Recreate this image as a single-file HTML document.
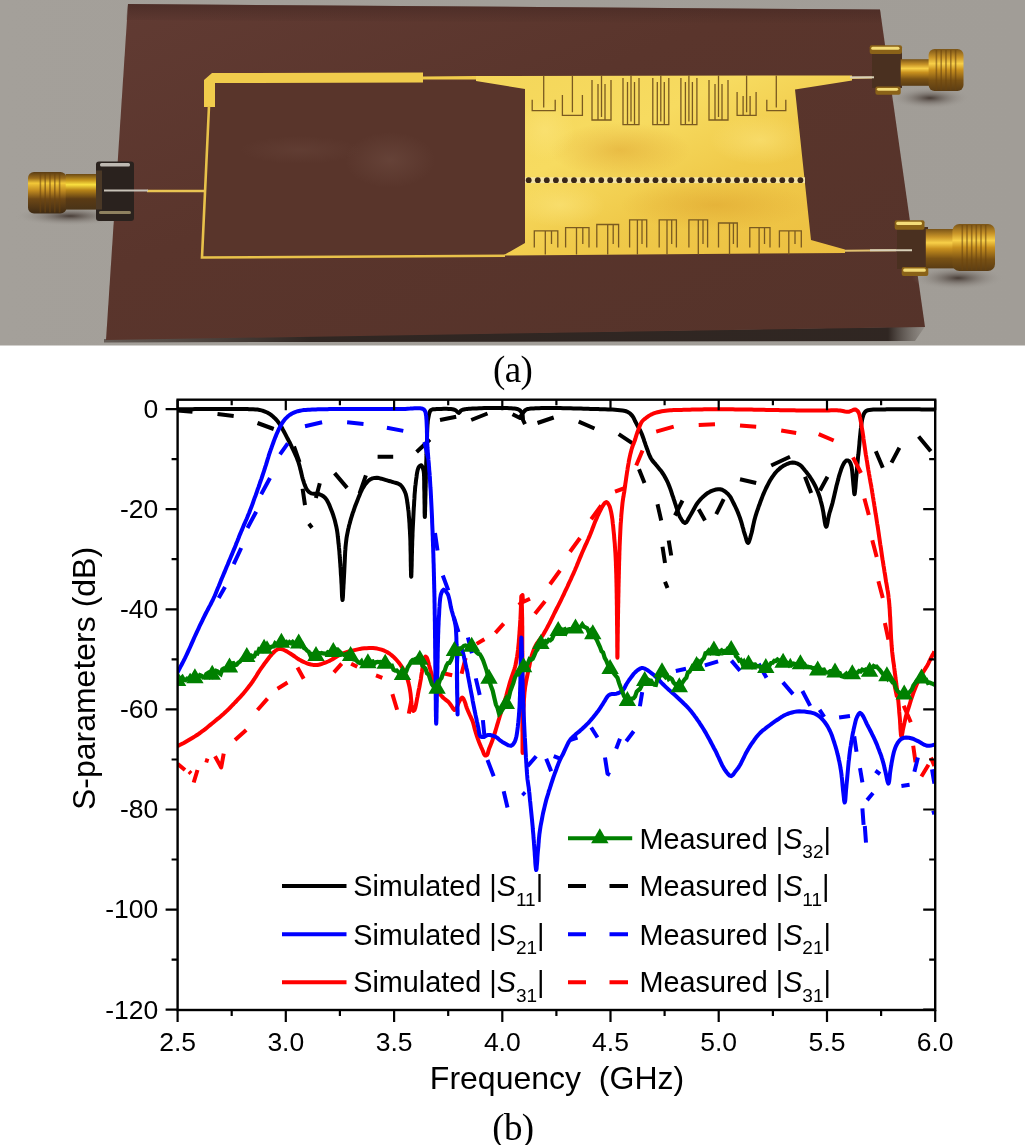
<!DOCTYPE html>
<html><head><meta charset="utf-8"><title>Figure</title>
<style>html,body{margin:0;padding:0;background:#fff;}svg{display:block;}</style>
</head><body>
<svg width="1025" height="1145" viewBox="0 0 1025 1145">
<rect width="1025" height="1145" fill="#fff"/>
<defs>
<linearGradient id="bg" x1="0" y1="0" x2="1" y2="0">
 <stop offset="0" stop-color="#a4a09a"/><stop offset="0.5" stop-color="#a29e98"/><stop offset="1" stop-color="#a19d97"/>
</linearGradient>
<linearGradient id="pcb" x1="0" y1="0" x2="1" y2="1">
 <stop offset="0" stop-color="#613b33"/><stop offset="0.4" stop-color="#5a352c"/><stop offset="1" stop-color="#55332a"/>
</linearGradient>
<linearGradient id="gold" x1="0" y1="0" x2="1" y2="1">
 <stop offset="0" stop-color="#f4d65a"/><stop offset="0.35" stop-color="#f7db60"/><stop offset="0.6" stop-color="#f0ca4a"/><stop offset="1" stop-color="#ecbe40"/>
</linearGradient>
<linearGradient id="conn" x1="0" y1="0" x2="0" y2="1">
 <stop offset="0" stop-color="#6e4a14"/><stop offset="0.25" stop-color="#c08a22"/><stop offset="0.42" stop-color="#f6d04a"/>
 <stop offset="0.55" stop-color="#b47e1c"/><stop offset="0.8" stop-color="#7a5214"/><stop offset="1" stop-color="#4a3010"/>
</linearGradient>
<linearGradient id="connL" x1="0" y1="0" x2="0" y2="1">
 <stop offset="0" stop-color="#5a3c14"/><stop offset="0.15" stop-color="#9a6c1c"/><stop offset="0.27" stop-color="#f2c838"/><stop offset="0.45" stop-color="#c08a20"/>
 <stop offset="0.65" stop-color="#6e4816"/><stop offset="1" stop-color="#3e2a14"/>
</linearGradient>
<linearGradient id="connL2" x1="0" y1="0" x2="0" y2="1">
 <stop offset="0" stop-color="#6a4814"/><stop offset="0.18" stop-color="#c8981e"/><stop offset="0.3" stop-color="#fae040"/><stop offset="0.45" stop-color="#b88418"/>
 <stop offset="0.7" stop-color="#5a3a14"/><stop offset="1" stop-color="#4a3418"/>
</linearGradient>
<linearGradient id="connR" x1="0" y1="0" x2="0" y2="1">
 <stop offset="0" stop-color="#7a5418"/><stop offset="0.2" stop-color="#c89428"/><stop offset="0.35" stop-color="#f8d048"/><stop offset="0.5" stop-color="#c8901e"/>
 <stop offset="0.75" stop-color="#7a5214"/><stop offset="1" stop-color="#5a3c14"/>
</linearGradient>
<linearGradient id="flange" x1="0" y1="0" x2="0" y2="1">
 <stop offset="0" stop-color="#3a2c22"/><stop offset="0.5" stop-color="#2a221c"/><stop offset="1" stop-color="#3a2c22"/>
</linearGradient>
<radialGradient id="shadow" cx="0.5" cy="0.5" r="0.5">
 <stop offset="0" stop-color="#3e322c" stop-opacity="0.9"/><stop offset="1" stop-color="#a29e98" stop-opacity="0"/>
</radialGradient>
</defs>
<rect x="0" y="0" width="1025" height="345.5" fill="url(#bg)"/>
<linearGradient id="shd" x1="0" y1="0" x2="1" y2="0"><stop offset="0" stop-color="#3a2e28" stop-opacity="0.6"/><stop offset="0.25" stop-color="#2a201c" stop-opacity="0.95"/><stop offset="0.955" stop-color="#2a201c" stop-opacity="0.95"/><stop offset="1" stop-color="#5a524c" stop-opacity="0.2"/></linearGradient>
<polygon points="104,339 925,326.5 915,341 600,341.5 300,342 104,342.5" fill="url(#shd)"/>
<polygon points="128,4 880,9.5 925,327 106,340" fill="url(#pcb)"/>
<linearGradient id="topd" x1="0" y1="0" x2="0" y2="1"><stop offset="0" stop-color="#3e2420" stop-opacity="0.55"/><stop offset="1" stop-color="#3e2420" stop-opacity="0"/></linearGradient>
<polygon points="128,4 880,9.5 882,24 126,20" fill="url(#topd)"/>
<polygon points="207,83 476,81 525,89 525,243 503,255 202,257" fill="#59352b"/>
<polygon points="476,76 852,75.5 852,80.5 795,89.5 811,240 845,249.5 845,253 503,255.5 525,243 525,89 476,81" fill="url(#gold)"/>
<clipPath id="gclip"><polygon points="476,76 852,75.5 852,80.5 795,89.5 811,240 845,249.5 845,253 503,255.5 525,243 525,89 476,81"/></clipPath>
<radialGradient id="org" cx="0.5" cy="0.5" r="0.5"><stop offset="0" stop-color="#d99a28" stop-opacity="0.45"/><stop offset="1" stop-color="#d99a28" stop-opacity="0"/></radialGradient>
<radialGradient id="lgt" cx="0.5" cy="0.5" r="0.5"><stop offset="0" stop-color="#fbe47a" stop-opacity="0.6"/><stop offset="1" stop-color="#fbe47a" stop-opacity="0"/></radialGradient>
<g clip-path="url(#gclip)"><ellipse cx="620" cy="150" rx="70" ry="28" fill="url(#org)"/><ellipse cx="715" cy="205" rx="95" ry="26" fill="url(#org)"/><ellipse cx="560" cy="205" rx="45" ry="22" fill="url(#lgt)"/><ellipse cx="760" cy="140" rx="50" ry="25" fill="url(#lgt)"/><ellipse cx="545" cy="130" rx="30" ry="30" fill="url(#lgt)"/></g>
<radialGradient id="smg" cx="0.5" cy="0.5" r="0.5"><stop offset="0" stop-color="#8a6a5e" stop-opacity="0.25"/><stop offset="1" stop-color="#8a6a5e" stop-opacity="0"/></radialGradient>
<ellipse cx="390" cy="160" rx="45" ry="28" fill="url(#smg)"/>
<ellipse cx="300" cy="150" rx="60" ry="14" fill="url(#smg)" opacity="0.6"/>
<polygon points="212,73 423,72.5 423,82.5 215,83 215,107 204,107 204,80" fill="#f0cc4c"/>
<polygon points="423,76.5 476,76 476,79.5 423,79.5" fill="#f0cc4c"/>
<path d="M209 106 L202 257.5 L505 255.8" stroke="#e8c24a" stroke-width="2.6" fill="none"/>
<path d="M147 191 L205 191" stroke="#e9c453" stroke-width="2.6" fill="none"/>
<path d="M852 78 L872 77.5" stroke="#e0c070" stroke-width="2" fill="none"/>
<path d="M845 250.8 L896 250.3" stroke="#e0c070" stroke-width="2" fill="none"/>
<rect x="525" y="177.3" width="280" height="5.8" fill="#f4e4a8"/>
<g fill="#3a2718"><circle cx="528.7" cy="180.2" r="2.9"/><circle cx="537.8" cy="180.2" r="2.9"/><circle cx="546.8" cy="180.2" r="2.9"/><circle cx="555.9" cy="180.2" r="2.9"/><circle cx="564.9" cy="180.2" r="2.9"/><circle cx="574" cy="180.2" r="2.9"/><circle cx="583" cy="180.2" r="2.9"/><circle cx="592.1" cy="180.2" r="2.9"/><circle cx="601.2" cy="180.2" r="2.9"/><circle cx="610.2" cy="180.2" r="2.9"/><circle cx="619.3" cy="180.2" r="2.9"/><circle cx="628.3" cy="180.2" r="2.9"/><circle cx="637.4" cy="180.2" r="2.9"/><circle cx="646.4" cy="180.2" r="2.9"/><circle cx="655.5" cy="180.2" r="2.9"/><circle cx="664.5" cy="180.2" r="2.9"/><circle cx="673.6" cy="180.2" r="2.9"/><circle cx="682.7" cy="180.2" r="2.9"/><circle cx="691.7" cy="180.2" r="2.9"/><circle cx="700.8" cy="180.2" r="2.9"/><circle cx="709.8" cy="180.2" r="2.9"/><circle cx="718.9" cy="180.2" r="2.9"/><circle cx="727.9" cy="180.2" r="2.9"/><circle cx="737" cy="180.2" r="2.9"/><circle cx="746.1" cy="180.2" r="2.9"/><circle cx="755.1" cy="180.2" r="2.9"/><circle cx="764.2" cy="180.2" r="2.9"/><circle cx="773.2" cy="180.2" r="2.9"/><circle cx="782.3" cy="180.2" r="2.9"/><circle cx="791.3" cy="180.2" r="2.9"/><circle cx="800.4" cy="180.2" r="2.9"/></g>
<path d="M543.7 75.5 V107.6 M532.2 99.7 V110.6 H555.2 V99.7 M572.4 75.5 V112.3 M562.4 95 V115.3 H582.4 V95 M601.5 75.5 V117 M592 80 V120 H611 V80 M598 84 V119.5 M605 84 V119.5 M631 75.5 V121.6 M623 78 V124.6 H639 V78 M627.5 82 V124.1 M634.5 82 V124.1 M660.8 75.5 V121.6 M652.8 78 V124.6 H668.8 V78 M657.3 82 V124.1 M664.3 82 V124.1 M688.9 75.5 V121.6 M680.9 78 V124.6 H696.9 V78 M685.4 82 V124.1 M692.4 82 V124.1 M718.5 75.5 V117 M709 80 V120 H728 V80 M715 84 V119.5 M722 84 V119.5 M746.6 75.5 V112.3 M737.1 92 V115.3 H756.1 V92 M743.1 96 V114.8 M750.1 96 V114.8 M776.3 75.5 V107.6 M766.8 99.7 V110.6 H785.8 V99.7 M545.3 254.5 V230.8 M534.3 247.5 V230.8 H557.8 V247.5 M551.5 230.8 V244 M576.5 254.5 V227.7 M565.6 247.5 V227.7 H589 V247.5 M582.8 227.7 V244 M607.7 254.5 V224.5 M596.8 247.5 V224.5 H618.6 V247.5 M613.2 224.5 V244 M637.4 254.5 V219.9 M629.6 247.5 V219.9 H646.7 V247.5 M642 219.9 V244 M667 254.5 V219.9 M659.2 247.5 V219.9 H676.4 V247.5 M671.7 219.9 V244 M698.3 254.5 V219.9 M688.9 247.5 V219.9 H707.6 V247.5 M703 219.9 V244 M729.5 254.5 V223 M718.5 247.5 V223 H737.3 V247.5 M733.4 223 V244 M759.1 254.5 V227.7 M749.8 247.5 V227.7 H770 V247.5 M764.5 227.7 V244 M788.8 254.5 V230.8 M779.4 247.5 V230.8 H801.3 V247.5 M795 230.8 V244" stroke="#7a5a20" stroke-width="1.3" fill="none"/>
<ellipse cx="70" cy="216" rx="55" ry="10" fill="url(#shadow)"/>
<rect x="28" y="172" width="38.5" height="41.5" rx="6" fill="url(#connL)"/>
<path d="M40.4 173 V212.5 M45.2 173 V212.5 M50 173 V212.5 M54.8 173 V212.5 M59.6 173 V212.5" stroke="#6a4410" stroke-width="1.6" opacity="0.55"/>
<rect x="65.7" y="174" width="32.9" height="35.6" rx="0" fill="url(#connL2)"/>
<rect x="96" y="161.4" width="38" height="59.6" rx="3" fill="#2a221e"/>
<rect x="100" y="163" width="30" height="3.5" rx="1.5" fill="#d8d4cc" opacity="0.85"/>
<rect x="99" y="211" width="32" height="3" rx="1.5" fill="#a89a70" opacity="0.8"/>
<rect x="96" y="170.5" width="6" height="39" fill="#4a3826"/>
<path d="M104 190.5 H148" stroke="#c8c2b8" stroke-width="2.2"/>
<ellipse cx="930" cy="98" rx="40" ry="11" fill="url(#shadow)"/>
<rect x="872" y="52" width="30" height="36" fill="#4a3020"/>
<rect x="869.7" y="45.2" width="32.3" height="8.9" rx="2" fill="#8a6218"/><rect x="871.2" y="46.7" width="28.3" height="3.1" rx="1.5" fill="#f4dc78"/>
<rect x="875.4" y="86.4" width="25.3" height="8.3" rx="2" fill="#8a6218"/><rect x="876.9" y="87.9" width="21.3" height="2.9" rx="1.5" fill="#f4dc78"/>
<rect x="900.7" y="59.2" width="30.5" height="26.6" rx="0" fill="url(#connR)"/>
<rect x="928.6" y="49" width="34.9" height="41.9" rx="6" fill="url(#connR)"/>
<path d="M936.4 50 V89.9 M941.2 50 V89.9 M946 50 V89.9 M950.8 50 V89.9 M955.6 50 V89.9" stroke="#6a4410" stroke-width="1.6" opacity="0.55"/>
<path d="M850 77.3 H874" stroke="#d8d0b8" stroke-width="2"/>
<ellipse cx="958" cy="278" rx="46" ry="12" fill="url(#shadow)"/>
<rect x="897" y="227" width="31" height="42" fill="#4a3020"/>
<rect x="894.7" y="220.2" width="29.8" height="9.5" rx="2" fill="#8a6218"/><rect x="896.2" y="221.7" width="25.8" height="3.3" rx="1.5" fill="#f4dc78"/>
<rect x="901.7" y="267.1" width="26.6" height="8.9" rx="2" fill="#8a6218"/><rect x="903.2" y="268.6" width="22.6" height="3.1" rx="1.5" fill="#f4dc78"/>
<rect x="925.8" y="229" width="35.5" height="39.4" rx="0" fill="url(#connR)"/>
<rect x="952.4" y="224" width="42.6" height="47" rx="7" fill="url(#connR)"/>
<path d="M962.3 225 V270 M967 225 V270 M971.7 225 V270 M976.3 225 V270 M981 225 V270 M985.7 225 V270" stroke="#6a4410" stroke-width="1.6" opacity="0.55"/>
<path d="M870 250.3 H912" stroke="#d8d0b8" stroke-width="2"/>
<defs><clipPath id="pc"><rect x="177.6" y="399.7" width="757.6" height="610.3"/></clipPath></defs>
<g clip-path="url(#pc)">
<g fill="none" stroke-linejoin="round" stroke-linecap="butt" stroke-width="4">
<path d="M177.5 409.2 L179.5 409.2 L181.6 409.2 L183.8 409.2 L185.9 409.2 L188.1 409.2 L190.4 409.2 L192.6 409.2 L194.9 409.1 L197.2 409.1 L199.5 409.1 L201.9 409.1 L204.2 409.1 L206.5 409.1 L208.8 409.1 L211.1 409.1 L213.5 409 L215.7 409 L218 409 L220.2 409 L222.4 409 L224.6 409 L226.7 409 L228.8 409 L230.9 409 L232.9 409 L234.8 409 L236.7 409 L238.5 409 L240.2 409 L241.8 409 L243.4 409.1 L244.9 409.1 L246.3 409.1 L247.7 409.1 L248.9 409.2 L250 409.2 L253.1 409.3 L255.5 409.4 L257.5 409.6 L259.5 409.9 L262.4 410.6 L265 411.6 L267.2 412.5 L269.3 413.7 L271 414.9 L272.7 416.3 L274.5 417.9 L276.1 419.5 L277.4 421.1 L278.7 422.7 L279.8 424.4 L281 426.3 L282 427.9 L282.9 429.7 L283.9 431.5 L284.9 433.4 L285.8 435.2 L286.8 437.1 L287.8 439 L288.8 440.9 L289.8 442.8 L290.8 444.8 L291.7 446.8 L292.7 448.8 L293.6 450.7 L294.4 452.5 L295.3 454.4 L296.1 456.3 L297 458.3 L297.7 460.3 L298.5 462.4 L299.1 464.4 L299.7 466.4 L300.2 468.6 L300.8 470.8 L301.3 473 L301.8 475.1 L302.3 477.2 L302.8 479.1 L303.4 480.9 L304.1 483.1 L304.8 485.1 L305.6 487 L306.4 488.8 L307.3 490.2 L309.1 492.1 L311.2 493.4 L313.6 493.8 L316.4 493.8 L319 494.1 L321.2 495 L323.4 496.3 L325.3 498 L326.5 499.6 L327.6 501.5 L328.7 503.6 L329.7 505.9 L330.6 508.2 L331.5 510.5 L332.2 512.3 L332.9 514.2 L333.5 516.1 L334.1 518 L334.7 520 L335.2 522 L335.7 524.1 L336.2 526.2 L336.6 528.2 L337 530.2 L337.3 532.3 L337.6 534.4 L337.8 536.6 L338.1 538.8 L338.3 541 L338.5 543.3 L338.8 545.6 L339 548 L339.2 549.8 L339.4 551.8 L339.5 553.7 L339.7 555.7 L339.8 557.8 L340 559.9 L340.1 562 L340.3 564.1 L340.4 566.2 L340.6 568.3 L340.7 570.3 L340.8 572.4 L340.9 574.4 L341.1 576.3 L341.2 578.2 L341.3 580 L341.4 582.4 L341.6 584.9 L341.7 587.6 L341.8 590.3 L341.9 592.8 L342 595.1 L342.1 597.1 L342.3 598.6 L342.4 599.6 L342.5 600 L342.6 599.7 L342.7 598.7 L342.9 597.2 L343 595.2 L343.1 592.9 L343.2 590.4 L343.4 587.8 L343.5 585.1 L343.7 582.5 L343.8 580 L343.9 578.3 L344 576.5 L344.1 574.6 L344.2 572.6 L344.3 570.6 L344.4 568.5 L344.5 566.4 L344.6 564.2 L344.7 562.1 L344.8 559.9 L344.9 557.7 L345 555.5 L345.1 553.4 L345.2 551.3 L345.4 549.2 L345.5 547.2 L345.7 545.3 L345.9 543.4 L346.1 541.7 L346.3 540 L346.6 537.6 L347 535.4 L347.4 533.3 L347.8 531.3 L348.2 529.3 L348.7 527.4 L349.1 525.5 L349.7 523.5 L350.2 521.5 L350.8 519.4 L351.4 517.3 L352.1 515.2 L352.7 513.1 L353.5 511 L354.2 508.9 L354.9 506.8 L355.7 504.7 L356.5 502.7 L357.3 500.7 L358.1 498.6 L358.9 496.6 L359.8 494.5 L360.6 492.5 L361.5 490.6 L362.4 488.7 L363.4 487.1 L364.3 485.6 L365.8 483.6 L367.3 481.9 L368.8 480.4 L370.5 479.3 L372.5 478.4 L374.6 477.9 L376.8 477.8 L379 478.1 L381.4 478.7 L383.8 479.4 L386.1 480.1 L388.1 480.7 L390.2 481.2 L392.1 481.8 L394 482.4 L396.2 483 L398.3 483.7 L400.2 484.8 L401.6 486.1 L402.8 487.8 L403.9 489.7 L404.9 491.8 L405.6 493.6 L406.1 495.6 L406.6 497.8 L407 500 L407.3 502.4 L407.7 504.9 L408 507.4 L408.2 509.2 L408.5 511.1 L408.7 513.1 L408.8 515.1 L409 517.2 L409.2 519.3 L409.3 521.4 L409.5 523.6 L409.6 525.8 L409.7 528.1 L409.9 530.4 L410 532.7 L410.1 535 L410.2 537 L410.3 539.2 L410.4 541.6 L410.4 544.1 L410.5 546.8 L410.5 549.5 L410.6 552.3 L410.7 555.1 L410.7 557.8 L410.7 560.5 L410.8 563.1 L410.8 565.6 L410.9 567.9 L410.9 570 L411 571.9 L411 573.6 L411 574.9 L411.1 575.9 L411.1 576.5 L411.2 576.7 L411.3 576.5 L411.3 575.8 L411.4 574.8 L411.4 573.4 L411.5 571.7 L411.5 569.8 L411.6 567.6 L411.7 565.2 L411.7 562.7 L411.8 560.1 L411.8 557.4 L411.9 554.7 L412 552 L412 549.3 L412.1 546.8 L412.2 544.3 L412.2 542.1 L412.3 540 L412.4 537.9 L412.5 535.8 L412.5 533.8 L412.6 531.7 L412.7 529.7 L412.8 527.7 L412.9 525.7 L413 523.7 L413.1 521.8 L413.2 519.8 L413.3 517.8 L413.4 515.9 L413.5 513.9 L413.6 512 L413.7 510 L413.8 507.8 L414 505.6 L414.1 503.4 L414.2 501.2 L414.4 498.9 L414.5 496.7 L414.6 494.5 L414.8 492.4 L415 490.3 L415.1 488.2 L415.3 486.2 L415.6 484.3 L415.8 482.4 L416.1 479.8 L416.5 477.1 L416.8 474.5 L417.2 472.1 L417.7 469.9 L418.3 468.1 L418.9 466.8 L420.1 465.6 L421.3 465.3 L422.5 466.9 L423.4 470 L423.7 471.4 L423.9 473.1 L424 474.9 L424.1 476.9 L424.1 479 L424.2 481.2 L424.2 483.5 L424.2 485.7 L424.2 488 L424.3 490.2 L424.4 492.3 L424.4 494.7 L424.4 497.2 L424.5 499.9 L424.5 502.7 L424.6 505.4 L424.6 508 L424.6 510.4 L424.6 512.6 L424.7 514.4 L424.7 515.8 L424.8 516.7 L424.8 517 L424.9 516.7 L424.9 515.9 L425 514.6 L425 512.9 L425.1 510.9 L425.1 508.5 L425.2 506 L425.3 503.3 L425.3 500.6 L425.4 497.8 L425.5 495.1 L425.5 492.4 L425.6 490 L425.6 488.2 L425.7 486.3 L425.7 484.4 L425.8 482.4 L425.8 480.3 L425.9 478.2 L425.9 476.1 L426 474 L426 471.8 L426.1 469.7 L426.1 467.5 L426.2 465.3 L426.2 463.2 L426.3 461 L426.4 458.9 L426.4 456.8 L426.5 454.7 L426.5 452.6 L426.6 450.6 L426.7 448.7 L426.7 446.8 L426.8 445 L426.9 442.7 L427 440.3 L427 438 L427.1 435.7 L427.1 433.4 L427.2 431.1 L427.3 429 L427.4 426.9 L427.5 424.9 L427.7 423 L427.8 421.2 L428 419.5 L428.3 418 L428.8 415.5 L429.3 413.2 L430 411.3 L431 410 L432.7 409.3 L435 409.2 L436.7 409.1 L438.8 409 L441.2 408.9 L443.8 408.8 L446.4 408.8 L448.8 408.9 L450.9 409 L452.5 409.2 L454.5 409.7 L456 410.5 L457.4 412 L458.7 413 L459.8 412 L461 410.5 L462.6 409.7 L465 409.2 L466 409.1 L467.3 408.9 L468.8 408.8 L470.5 408.7 L472.4 408.6 L474.5 408.5 L476.7 408.4 L479.1 408.3 L481.6 408.2 L484.1 408.1 L486.7 408.1 L489.4 408 L492 408 L494.7 408 L497.3 408 L499.9 408 L502.4 408 L504.8 408.1 L507.1 408.1 L509.2 408.2 L511.2 408.3 L513 408.5 L514.6 408.6 L516 408.8 L517.1 409 L518 409.2 L519.5 410 L520.5 411 L521.5 412.2 L522.5 413 L523.5 412.2 L524.5 411 L525.5 410 L527 409.2 L527.7 409 L528.6 408.9 L529.6 408.7 L530.9 408.6 L532.3 408.5 L533.8 408.4 L535.5 408.3 L537.3 408.2 L539.2 408.2 L541.3 408.1 L543.4 408.1 L545.6 408.1 L548 408.1 L550.3 408.1 L552.8 408.1 L555.3 408.1 L557.8 408.1 L560.4 408.1 L563 408.2 L565.6 408.2 L568.2 408.3 L570.8 408.3 L573.4 408.4 L576 408.5 L578.6 408.5 L581 408.6 L583.5 408.7 L585.9 408.7 L588.2 408.8 L590.4 408.9 L592.5 408.9 L594.5 409 L596.4 409.1 L598.2 409.1 L599.9 409.2 L601.4 409.2 L602.8 409.2 L604 409.3 L605 409.3 L608.1 409.4 L610.3 409.5 L612.5 409.6 L615 409.8 L617.5 410 L620 410.3 L622.6 410.6 L625.3 411 L627.6 411.8 L630 413.4 L632 415.5 L633.2 417.2 L634.2 419.2 L635.2 421.3 L636.3 423.4 L637.3 425.3 L638.4 427.3 L639.5 429.3 L640.6 431.3 L641.6 433.5 L642.3 435.3 L643 437.2 L643.7 439.1 L644.3 441.1 L645 443 L645.6 444.9 L646.3 446.8 L647 448.8 L647.8 450.9 L648.5 452.9 L649.3 454.9 L650.1 456.8 L651 458.5 L652.4 460.6 L653.9 462.4 L655.5 464.2 L657 466 L658.4 467.7 L659.8 469.4 L661.2 471.1 L662.5 473 L663.7 474.8 L664.8 476.8 L665.9 478.8 L667 480.9 L668 483 L668.8 485 L669.6 487 L670.4 489.1 L671.1 491.2 L671.8 493.4 L672.5 495.5 L673.2 497.4 L673.8 499.4 L674.5 501.4 L675.1 503.4 L675.8 505.4 L676.4 507.3 L677 509 L677.7 511.2 L678.4 513.2 L679.1 515.2 L680 517 L681.5 519.6 L683.3 522 L685 523 L686.3 522.3 L687.5 520.5 L688.7 518.2 L690 516 L691 514.3 L692 512.5 L693.1 510.5 L694.2 508.5 L695.3 506.5 L696.4 504.6 L697.5 503 L699.1 501 L700.7 499.2 L702.3 497.5 L704 496 L705.9 494.4 L707.8 492.9 L710 491.7 L711.8 490.9 L713.9 490.1 L716 489.5 L718.1 489.2 L720 489.2 L722.2 489.8 L724.2 490.9 L726.2 492.4 L728 494 L729.4 495.7 L730.7 497.5 L731.8 499.6 L732.9 501.8 L734 504 L734.9 505.8 L735.8 507.8 L736.7 509.7 L737.6 511.7 L738.4 513.8 L739.2 515.9 L740 518 L740.7 520.1 L741.4 522.3 L742 524.5 L742.6 526.8 L743.3 529 L743.8 531.2 L744.4 533.2 L745 535 L745.8 537.6 L746.5 540.2 L747.3 542.2 L748 543 L748.8 542.2 L749.5 540.2 L750.3 537.6 L751 535 L751.5 533.2 L752 531.2 L752.5 529 L752.9 526.8 L753.4 524.6 L753.9 522.3 L754.4 520.1 L755 518 L755.6 515.8 L756.3 513.6 L757 511.4 L757.8 509.3 L758.5 507.1 L759.3 505.1 L760 503 L760.8 500.8 L761.6 498.7 L762.4 496.6 L763.2 494.6 L764.1 492.5 L765 490.5 L765.9 488.5 L766.9 486.5 L767.9 484.6 L768.9 482.6 L769.9 480.8 L771 479 L772.2 477.1 L773.5 475.3 L774.7 473.6 L776.1 472 L777.5 470.5 L779.3 468.9 L781.1 467.4 L783 466.1 L785 465 L787.5 463.8 L790 462.9 L792.5 462.5 L795.1 462.8 L797.7 463.7 L800 465 L801.8 466.6 L803.4 468.5 L805 470.5 L806.3 472 L807.5 473.6 L808.8 475.3 L810 477 L811.3 479 L812.6 481.1 L813.8 483.3 L815 485.5 L815.9 487.3 L816.7 489.2 L817.5 491 L818.3 493 L819 495 L819.7 497 L820.3 499.1 L820.8 501.2 L821.4 503.4 L822 505.7 L822.5 508 L822.9 510.1 L823.4 512.6 L823.8 515.4 L824.2 518.1 L824.6 520.8 L825 523.1 L825.4 525 L825.8 526.2 L826.2 526.7 L826.7 526.1 L827.1 524.5 L827.6 522.3 L828 519.8 L828.5 517.2 L829 515 L829.5 513 L830.1 511.1 L830.7 509.1 L831.3 507.1 L831.9 505.1 L832.5 503 L833 500.9 L833.5 498.8 L834 496.7 L834.5 494.5 L835 492.3 L835.5 490.2 L836 488 L836.5 485.8 L837.1 483.6 L837.7 481.3 L838.3 479.1 L838.8 476.9 L839.4 474.9 L840 473 L840.7 470.8 L841.4 468.7 L842.2 466.8 L843 465 L844.5 462.3 L846.2 460.5 L847.6 460.4 L849 461 L850.3 462.8 L851.2 465.5 L851.6 467.1 L851.9 469 L852.2 471.1 L852.4 473.3 L852.6 475.6 L852.8 477.9 L853 480 L853.2 482.3 L853.4 484.9 L853.7 487.6 L853.9 490.1 L854.1 492.2 L854.3 493.7 L854.5 494.2 L854.7 493.7 L854.9 492.3 L855.1 490.2 L855.4 487.7 L855.6 485 L855.8 482.3 L856 480 L856.2 477.9 L856.4 475.8 L856.6 473.7 L856.8 471.5 L856.9 469.4 L857.1 467.2 L857.3 465.1 L857.5 463 L857.7 460.8 L857.9 458.7 L858.1 456.5 L858.4 454.4 L858.6 452.3 L858.8 450.2 L859 448 L859.2 446 L859.4 444 L859.5 442 L859.7 440 L859.9 437.9 L860.1 435.9 L860.3 434 L860.5 432 L860.7 429.9 L861 427.7 L861.2 425.6 L861.5 423.5 L861.8 421.5 L862.1 419.7 L862.5 418 L863.2 415.6 L864 413.6 L865 412 L866.3 410.9 L868 410.2 L869.5 409.9 L871.3 409.7 L873.3 409.5 L875.6 409.5 L878.1 409.5 L880.8 409.4 L883.6 409.4 L885.1 409.4 L886.7 409.3 L888.3 409.3 L890.1 409.3 L891.9 409.3 L893.8 409.3 L895.7 409.3 L897.7 409.3 L899.7 409.3 L901.8 409.3 L903.9 409.3 L906.1 409.3 L908.2 409.3 L910.4 409.3 L912.6 409.3 L914.8 409.3 L917.1 409.3 L919.3 409.3 L921.5 409.4 L923.7 409.4 L925.9 409.4 L928 409.4 L930.2 409.4 L932.2 409.4 L934.3 409.4" stroke="#000000"/>
<path d="M177.5 410.5 L192.5 411.8 M217.5 414 L233.7 416 M257.5 423 L273.7 429 M294 446.5 L299.5 462.1 M302.6 488.7 L305 505.1 M308.9 523.8 L312 527.7 M315.9 498 L319.8 483.2 M334.6 473.1 L347.1 487.9 M359.6 493.4 L365.9 475.4 M377.6 456.7 L393.2 456.7 M416.6 452 L429.9 439.5 M440 420 L456.2 416.7 M471.2 420 L487.5 413.5 M512.5 414.2 L520 418 L522.5 413 L523 420 L525 424.2 M537.5 423 L553.7 417.5 M578.7 421.7 L594.5 428.5 M618.7 434.2 L633.7 444.2 M639 469.2 L644.5 483 M657.5 504.2 L661.2 520.5 M662.5 546.7 L665 563 M668.7 540.5 L671.2 555.5 M665 581.7 L667.5 588 M675 515.5 L682.5 500.5 M698.7 509.2 L705 520.5 M716.2 514.2 L723.7 499.2 M740 479.2 L756.2 483 M771.2 465.5 L790 456.7 M805 476.7 L811.2 493 M820 490.5 L827.5 476.7 M875.8 451.3 L882.8 467.8 M891.5 462.6 L899.4 447.8 M918.6 436.4 L930.8 451.3" stroke="#000000"/>
<path d="M177.5 746.2 L179.6 745.1 L181.7 744 L183.8 742.9 L185.9 741.7 L188 740.5 L189.7 739.5 L191.4 738.5 L193.1 737.5 L194.9 736.4 L196.6 735.3 L198.3 734.2 L200 733 L201.7 731.7 L203.5 730.4 L205.2 729.1 L206.9 727.7 L208.6 726.3 L210.3 724.9 L212 723.5 L213.6 722.2 L215.3 720.8 L216.9 719.4 L218.6 718.1 L220.3 716.7 L221.9 715.3 L223.5 713.9 L225 712.5 L226.5 711.1 L228 709.7 L229.4 708.3 L230.8 706.8 L232.2 705.4 L233.6 704 L235 702.5 L236.5 701 L237.9 699.4 L239.4 697.8 L240.8 696.3 L242.3 694.7 L243.7 693.1 L245 691.5 L246.4 689.8 L247.8 688 L249.1 686.3 L250.5 684.5 L251.7 682.8 L253 681 L254.2 679.2 L255.4 677.3 L256.6 675.5 L257.7 673.6 L258.8 671.8 L260 670 L261.3 668.1 L262.6 666.3 L263.9 664.5 L265.2 662.7 L266.5 661 L268 659 L269.5 657 L271.1 655.1 L272.5 653.5 L274.5 651.5 L276.5 650 L278.2 649.1 L280 648.7 L282.4 649.3 L285 650.5 L286.8 651.4 L288.7 652.6 L290.6 653.8 L292.5 655 L294.7 656.5 L296.9 658.1 L299 659.5 L301 660.6 L303 661.6 L305 662.5 L307 663.3 L309 664 L311 664.5 L313.1 664.9 L315.3 665.1 L317.5 665 L319.7 664.5 L321.9 663.8 L324 663 L326 662.3 L328 661.5 L330 660.6 L332 659.5 L334 658.2 L336 657 L338.1 655.8 L340.2 654.7 L342.5 653.6 L344.5 652.9 L346.7 652.2 L349 651.5 L351.2 650.9 L353.4 650.4 L355.6 649.9 L357.8 649.4 L359.9 648.9 L362 648.6 L364.4 648.3 L366.7 648.2 L369 648.1 L371 648.1 L373 648.1 L375 648.3 L377.2 648.6 L379.4 649.1 L381.5 649.7 L384.3 650.7 L387 652 L388.9 653.2 L390.7 654.5 L392.4 655.9 L394 657.3 L395.5 658.9 L397 660.5 L398.7 662.5 L400.3 664.6 L401.8 666.8 L403 668.8 L404 670.9 L405 673 L405.8 674.9 L406.6 676.8 L407.3 678.8 L408 680.9 L408.6 683.1 L409.1 685.4 L409.6 687.7 L410 690 L410.3 692 L410.6 694 L410.8 696 L411 698 L411.2 700 L411.4 702.4 L411.6 704.9 L411.9 707.2 L412.2 709 L412.6 710.3 L413.2 711 L413.8 710.7 L414.5 710 L415.3 707.9 L415.9 705 L416.3 703.1 L416.7 701 L417.1 698.7 L417.6 696.3 L418 694 L418.4 691.9 L418.8 689.7 L419.3 687.6 L419.7 685.4 L420.1 683.2 L420.5 681 L420.9 678.8 L421.2 676.6 L421.5 674.3 L421.9 672.1 L422.2 670 L422.5 668 L422.9 665.8 L423.2 663.7 L423.6 661.7 L424 660 L424.7 657.8 L425.5 656.5 L426.2 656.9 L427 658 L427.7 659.9 L428.4 662.5 L429 665 L429.7 667.3 L430.3 669.5 L431 672 L431.6 674.1 L432.2 676.4 L432.8 678.7 L433.4 681 L434.1 683 L435 685.2 L436 687.1 L437 689 L438.1 691.3 L439.3 693.4 L440.6 695 L442 696.5 L443.5 698 L445.8 699.8 L448.1 701.6 L449.9 703.8 L451.5 706 L453 708.5 L454.5 710 L455.5 709.4 L456.5 708 L457.3 706.2 L458.1 704 L459 702 L460.6 699.1 L462.2 697.5 L463.4 698.7 L464.5 701 L465.3 703.1 L466 705.6 L466.8 708 L467.8 710.4 L468.8 712.7 L469.8 715 L470.8 717.1 L471.8 719.3 L472.7 721.5 L473.3 723.5 L473.9 725.6 L474.4 727.7 L475 730 L475.6 731.9 L476.2 733.9 L476.9 736 L477.6 738.1 L478.3 740.1 L479 742 L480 744.4 L481 746.8 L482 749 L482.9 751 L483.9 753.8 L485 755.5 L486 755.5 L487 755 L487.8 753.5 L488.3 751.3 L489 749 L489.8 746.9 L490.7 744.7 L491.6 742.4 L492.5 740 L493.2 737.9 L493.9 735.8 L494.6 733.6 L495.3 731.3 L496 729 L496.6 727 L497.2 724.9 L497.9 722.7 L498.5 720.5 L499.2 718.3 L499.8 716.1 L500.5 714 L501.1 712 L501.8 710 L502.4 708.1 L503 706.2 L503.7 704.2 L504.3 702.1 L505 700 L505.6 698 L506.2 696 L506.8 693.8 L507.4 691.6 L508 689.4 L508.6 687.2 L509.2 685 L509.8 682.9 L510.4 680.9 L511 679 L511.7 676.8 L512.4 674.8 L513.1 672.9 L513.8 671 L514.4 669.1 L515 667 L515.5 665 L515.9 663 L516.3 660.9 L516.7 658.7 L517.1 656.6 L517.4 654.4 L517.7 652.2 L518 650 L518.2 648 L518.4 646 L518.6 644 L518.8 642 L518.9 640 L519.1 638 L519.2 636 L519.4 634 L519.5 632 L519.7 629.8 L519.8 627.7 L520 625.6 L520.1 623.5 L520.2 621.4 L520.4 619.2 L520.5 617.1 L520.6 614.9 L520.7 612.6 L520.8 610 L520.9 607.3 L521 604.5 L521.1 601.9 L521.2 599.5 L521.2 597.7 L521.3 596.4 L521.4 596 L521.5 596.4 L521.6 597.5 L521.7 599.1 L521.7 601.2 L521.8 603.7 L521.9 606.4 L522 609.3 L522 612.2 L522.1 615 L522.1 616.5 L522.2 618 L522.2 619.6 L522.2 621.2 L522.2 623 L522.2 624.7 L522.3 626.6 L522.3 628.4 L522.3 630.4 L522.3 632.3 L522.3 634.3 L522.3 636.4 L522.3 638.4 L522.3 640.6 L522.3 642.7 L522.3 644.8 L522.3 647 L522.3 649.2 L522.3 651.4 L522.4 653.6 L522.4 655.9 L522.4 658.1 L522.4 660.3 L522.4 662.6 L522.4 664.8 L522.4 667 L522.4 669.2 L522.4 671.4 L522.4 673.6 L522.4 675.8 L522.4 677.9 L522.4 680 L522.4 682 L522.4 684.2 L522.4 686.4 L522.4 688.7 L522.4 691.1 L522.4 693.6 L522.4 696.2 L522.4 698.7 L522.4 701.4 L522.4 704 L522.4 706.7 L522.4 709.4 L522.4 712.1 L522.4 714.8 L522.4 717.5 L522.4 720.2 L522.4 722.8 L522.4 725.4 L522.4 727.9 L522.4 730.3 L522.5 732.7 L522.5 735 L522.5 737.2 L522.5 739.3 L522.5 741.3 L522.5 743.2 L522.5 744.9 L522.5 746.5 L522.5 748 L522.5 749.2 L522.5 750.3 L522.5 751.3 L522.5 752 L522.6 752.6 L522.6 752.9 L522.6 753 L522.6 752.7 L522.7 752 L522.7 750.8 L522.7 749.3 L522.8 747.4 L522.8 745.3 L522.8 742.9 L522.9 740.3 L522.9 737.7 L523 734.9 L523 732.2 L523.1 729.5 L523.1 726.8 L523.2 724.4 L523.2 722.1 L523.3 720 L523.4 717.8 L523.4 715.5 L523.5 713.3 L523.5 711.1 L523.6 708.9 L523.7 706.8 L523.8 704.7 L523.8 702.6 L523.9 700.6 L524 698.7 L524.2 696.8 L524.3 695 L524.5 692.6 L524.8 690.3 L525 688.2 L525.3 686.1 L525.7 684.1 L526 682 L526.4 680 L526.8 678 L527.2 676 L527.6 674.1 L528 672.1 L528.5 670 L528.9 667.9 L529.4 665.8 L529.8 663.6 L530.3 661.3 L530.8 659.2 L531.3 657.1 L531.9 655.1 L532.6 652.9 L533.4 650.8 L534.1 648.9 L535 646.9 L536 645 L537.1 643.1 L538.4 641.3 L539.8 639.5 L541.1 637.7 L542.4 635.9 L543.6 634 L544.7 632.1 L545.8 630.1 L546.9 628.1 L548 626 L549 624.1 L550 622.2 L551 620.2 L552 618.1 L553 616.1 L554 614 L555 612 L556 610 L557 608 L558 606.1 L559 604.1 L560 602.1 L561 600.1 L562 598 L562.9 596.2 L563.8 594.3 L564.7 592.3 L565.6 590.4 L566.6 588.4 L567.5 586.5 L568.3 584.6 L569.2 582.7 L570 581 L570.9 579.1 L571.7 577.3 L572.5 575.5 L573.3 573.8 L574.1 572 L575 570 L575.7 568.3 L576.5 566.5 L577.2 564.6 L578 562.7 L578.8 560.8 L579.6 558.8 L580.4 556.9 L581.2 554.9 L582 553 L582.9 551 L583.8 549 L584.7 546.9 L585.6 544.9 L586.6 542.8 L587.5 540.8 L588.4 538.8 L589.2 536.9 L590 535 L590.9 532.7 L591.8 530.5 L592.6 528.3 L593.4 526.2 L594.2 524.1 L595 522 L595.8 520.1 L596.7 518.1 L597.5 516.2 L598.4 514.3 L599.2 512.6 L600 511 L601 509 L602 507.1 L603 505.5 L604.6 503.2 L606.2 502 L607.7 503 L609 505 L609.8 506.8 L610.4 509 L611 511.4 L611.5 514 L611.8 515.7 L612.1 517.6 L612.4 519.5 L612.6 521.5 L612.8 523.5 L613.1 525.6 L613.3 527.8 L613.5 530 L613.7 531.9 L613.9 533.8 L614.1 535.8 L614.2 537.8 L614.4 539.8 L614.6 541.9 L614.8 544 L614.9 546.1 L615.1 548.3 L615.2 550.5 L615.4 552.8 L615.5 555 L615.6 556.9 L615.7 558.8 L615.8 560.8 L615.9 562.8 L615.9 564.8 L616 566.8 L616.1 568.9 L616.1 570.9 L616.2 573 L616.3 575.1 L616.3 577.2 L616.4 579.4 L616.4 581.5 L616.5 583.6 L616.5 585.7 L616.6 587.9 L616.6 590 L616.6 591.9 L616.7 593.9 L616.7 595.9 L616.7 597.9 L616.8 600 L616.8 602 L616.8 604.1 L616.9 606.2 L616.9 608.2 L616.9 610.3 L616.9 612.3 L616.9 614.4 L617 616.4 L617 618.4 L617 620.4 L617 622.4 L617 624.4 L617.1 626.3 L617.1 628.2 L617.1 630 L617.1 632.5 L617.2 635.1 L617.2 637.9 L617.2 640.7 L617.2 643.6 L617.2 646.4 L617.3 649 L617.3 651.4 L617.3 653.5 L617.3 655.3 L617.3 656.6 L617.4 657.5 L617.4 657.8 L617.4 657.5 L617.5 656.6 L617.5 655.3 L617.5 653.5 L617.5 651.4 L617.6 649 L617.6 646.4 L617.6 643.6 L617.7 640.7 L617.7 637.9 L617.7 635.1 L617.8 632.5 L617.8 630 L617.8 628.2 L617.9 626.3 L617.9 624.4 L617.9 622.5 L617.9 620.6 L618 618.6 L618 616.6 L618 614.6 L618.1 612.6 L618.1 610.6 L618.1 608.6 L618.2 606.5 L618.2 604.5 L618.3 602.4 L618.3 600.3 L618.3 598.3 L618.4 596.2 L618.4 594.1 L618.5 592.1 L618.5 590 L618.5 588 L618.6 586 L618.6 583.9 L618.7 581.8 L618.7 579.7 L618.8 577.6 L618.8 575.4 L618.9 573.3 L618.9 571.1 L619 569 L619 566.8 L619.1 564.7 L619.1 562.6 L619.2 560.5 L619.3 558.4 L619.3 556.4 L619.4 554.4 L619.4 552.4 L619.5 550.5 L619.6 548.6 L619.6 546.8 L619.7 545 L619.8 542.6 L619.9 540.4 L620 538.1 L620.1 535.9 L620.2 533.8 L620.3 531.7 L620.4 529.7 L620.5 527.7 L620.6 525.7 L620.7 523.8 L620.9 521.9 L621 520 L621.2 517.7 L621.3 515.5 L621.5 513.3 L621.7 511.1 L621.9 509.1 L622.1 507 L622.3 505 L622.5 503 L622.8 500.7 L623.1 498.5 L623.5 496.4 L623.8 494.2 L624.2 492.1 L624.5 490 L624.8 488 L625.1 486.1 L625.3 484.1 L625.6 482.2 L625.9 480.2 L626.2 478 L626.5 476 L626.8 474 L627.1 471.8 L627.5 469.6 L627.8 467.3 L628.2 465.1 L628.6 463 L628.9 460.9 L629.3 459 L629.8 456.6 L630.3 454.3 L630.9 452.1 L631.4 450 L632 448 L632.8 445.6 L633.7 443.4 L634.6 441 L635.3 439 L635.9 436.9 L636.6 434.7 L637.3 432.5 L638.1 430.4 L639 428 L639.9 425.5 L640.9 423.3 L642 421.5 L643.4 420 L645.1 418.7 L646.8 417.3 L648.8 415.9 L651 414.6 L653 413.7 L655.2 412.9 L657.5 412.3 L659.8 411.7 L661.7 411.3 L663.6 411 L665.6 410.7 L667.7 410.5 L670 410.3 L671.7 410.2 L673.5 410.1 L675.4 410 L677.4 409.9 L679.4 409.9 L681.5 409.9 L683.6 409.8 L685.7 409.8 L687.9 409.7 L690 409.7 L692 409.6 L694 409.6 L696 409.5 L698 409.5 L700 409.4 L702.1 409.4 L704.1 409.3 L706.3 409.3 L708.4 409.3 L710.6 409.2 L712.8 409.2 L715 409.2 L716.9 409.2 L718.8 409.2 L720.8 409.2 L722.8 409.2 L724.8 409.2 L726.8 409.3 L728.9 409.3 L730.9 409.3 L733 409.3 L735.1 409.4 L737.2 409.4 L739.4 409.4 L741.5 409.5 L743.6 409.5 L745.7 409.5 L747.9 409.6 L750 409.6 L751.9 409.6 L753.9 409.7 L755.9 409.7 L757.9 409.7 L759.9 409.8 L762 409.8 L764 409.8 L766.1 409.9 L768.1 409.9 L770.2 410 L772.2 410 L774.3 410 L776.3 410.1 L778.3 410.1 L780.3 410.2 L782.3 410.2 L784.3 410.2 L786.2 410.2 L788.1 410.3 L790 410.3 L792.1 410.3 L794.3 410.3 L796.4 410.4 L798.5 410.4 L800.5 410.4 L802.6 410.4 L804.6 410.4 L806.7 410.4 L808.6 410.5 L810.6 410.5 L812.5 410.5 L814.5 410.5 L816.3 410.5 L818.2 410.5 L820 410.5 L822.2 410.5 L824.5 410.5 L826.7 410.4 L828.9 410.4 L831.1 410.3 L833.2 410.3 L835.1 410.3 L836.9 410.3 L838.6 410.4 L840 410.5 L842.8 411 L845 411.5 L846.9 411.8 L848.7 411.8 L850.4 411.2 L852 410.5 L853.5 409.8 L855 409.5 L856.1 409.8 L857 410.5 L858 411.5 L858.8 413 L859.4 414.6 L859.8 416.6 L860.3 418.8 L860.7 421 L861.1 422.8 L861.4 424.7 L861.7 426.7 L862 428.7 L862.4 430.8 L862.7 432.9 L863 434.8 L863.3 436.7 L863.5 438.7 L863.8 440.7 L864.1 442.8 L864.4 444.8 L864.7 446.9 L865 449 L865.3 451 L865.6 453.1 L865.9 455.1 L866.3 457.2 L866.6 459.3 L867 461.4 L867.3 463.6 L867.6 465.7 L868 467.8 L868.3 469.8 L868.7 471.8 L869 473.8 L869.4 475.8 L869.7 477.8 L870.1 479.8 L870.4 481.9 L870.8 483.9 L871.2 485.9 L871.5 488 L871.9 490.1 L872.2 492.3 L872.6 494.4 L872.9 496.6 L873.3 498.8 L873.6 501 L874 503.1 L874.3 505.3 L874.7 507.5 L875 509.7 L875.3 511.7 L875.6 513.7 L876 515.7 L876.3 517.8 L876.6 519.8 L876.9 521.8 L877.2 523.8 L877.6 525.9 L877.9 527.9 L878.2 530 L878.5 532 L878.8 534.1 L879.1 536.2 L879.4 538.3 L879.7 540.4 L880 542.5 L880.3 544.6 L880.7 546.8 L881 548.9 L881.3 551 L881.6 553.1 L881.9 555.2 L882.2 557.3 L882.5 559.4 L882.9 561.4 L883.2 563.5 L883.5 565.6 L883.9 567.7 L884.2 569.7 L884.5 571.8 L884.9 573.9 L885.2 575.9 L885.5 578 L885.8 580 L886.1 581.9 L886.5 583.8 L886.8 585.7 L887.1 587.5 L887.4 589.4 L887.8 591.4 L888.1 593.4 L888.4 595.5 L888.6 597.7 L888.9 600 L889.1 601.7 L889.2 603.5 L889.4 605.3 L889.5 607.3 L889.7 609.3 L889.8 611.4 L889.9 613.5 L890 615.6 L890.2 617.8 L890.3 620.1 L890.4 622.3 L890.5 624.6 L890.6 626.8 L890.7 629.1 L890.8 631.3 L890.9 633.5 L891 635.6 L891.1 637.7 L891.2 639.8 L891.4 641.8 L891.5 643.7 L891.6 645.6 L891.8 647.3 L891.9 649 L892.1 651.4 L892.4 653.7 L892.6 655.9 L892.9 657.9 L893.1 659.9 L893.4 661.9 L893.7 663.8 L894 665.8 L894.2 667.8 L894.5 670 L894.7 671.9 L895 673.9 L895.3 675.9 L895.5 677.9 L895.8 680 L896.1 682 L896.3 684.1 L896.6 686.2 L896.9 688.2 L897.1 690.3 L897.4 692.3 L897.6 694.3 L897.8 696.2 L898 698.5 L898.3 700.7 L898.5 702.9 L898.7 705.1 L898.9 707.3 L899.1 709.5 L899.2 711.7 L899.4 713.8 L899.6 715.9 L899.8 718 L900 720.3 L900.1 722.9 L900.3 725.6 L900.4 728.3 L900.6 730.8 L900.8 733 L900.9 734.8 L901.2 736 L901.4 736.4 L901.9 735.4 L902.4 732.9 L902.9 729.8 L903.5 727 L904 724.8 L904.5 722.6 L905 720.3 L905.5 718.1 L906 716 L906.6 714 L907.2 712.1 L907.8 710.1 L908.5 708 L909.1 706.2 L909.7 704.2 L910.3 702.2 L910.9 700.1 L911.6 698 L912.3 696 L913 694 L913.8 691.9 L914.6 689.8 L915.4 687.8 L916.2 685.8 L917.1 683.8 L917.9 682 L918.9 679.9 L919.9 677.9 L920.9 676 L922 674 L923 672.3 L924.1 670.6 L925.2 668.9 L926.3 667.2 L927.3 665.5 L928.3 663.6 L929.2 661.7 L930.1 659.8 L931 658 L932.1 655.8 L933.3 653.6 L934.4 651.4" stroke="#ff0000"/>
<path d="M177.5 763.7 L185 770 M189 771.5 L191 773.5 M193.7 782.5 L197.5 770 M205 760 L208.7 761.2 M215 756.2 L221.2 767.5 L223.7 753.7 M235 740 L246.2 730 M257.5 710 L267.5 698.7 M277.5 688.7 L287.5 682.5 M297.5 667.5 L303.7 678.7 M333.9 672.3 L341.7 663.7 M351.1 663.7 L357.3 666.8 M376 675.4 L382.3 677.8 M392.4 694.1 L397.1 709.8 M408.8 713.7 L411.2 701.2 M442 673 L452.2 675.3 M461.6 673.7 L465.6 658 M476.6 643.9 L484.4 639.2 M495.4 632.9 L503.7 623.7 M518.7 605 L521.5 603 L522.5 595 L523 602 L530 598.7 M535 613.7 L545 601.2 M550 584.2 L560 570.5 M570 551.7 L580 538 M591.2 519.2 L601.2 505.5 M615 491.7 L625 488 M636.2 465.5 L642.5 450.5 M656.2 431.7 L673.7 426.7 M698.7 425 L715 424.2 M740 425.5 L756.2 426.7 M781.2 430.5 L796.2 433 M818.7 434.2 L833.7 440.5 M853 457.4 L861 473 M864.4 498.4 L868.8 515 M872.3 540.3 L876.7 557 M878.4 581.3 L882.8 598 M884.9 623 L888.4 639.6 M893.5 680 L897 697 M903.7 705.7 L910.8 722.2 M913.2 745.8 L915.5 762.3 M921.4 776.5 L928.5 764.7 M930.9 757.6 L934.4 765.9" stroke="#ff0000"/>
<path d="M177.5 672.5 L178.4 670.7 L179.4 668.9 L180.3 667.1 L181.3 665.3 L182.2 663.5 L183.2 661.6 L184.1 659.8 L185.1 657.9 L186 656 L186.9 654.1 L187.8 652.1 L188.7 650.2 L189.6 648.2 L190.5 646.2 L191.4 644.1 L192.3 642.1 L193.2 640.1 L194.1 638 L195 636 L195.9 634.1 L196.8 632.2 L197.7 630.2 L198.6 628.3 L199.5 626.3 L200.4 624.4 L201.4 622.5 L202.3 620.6 L203.2 618.7 L204.1 616.8 L205 615 L206 613 L207 611.1 L208 609.3 L208.9 607.4 L209.9 605.6 L210.9 603.7 L211.8 601.9 L212.8 600 L213.7 598 L214.6 596.1 L215.4 594.2 L216.2 592.2 L217 590.2 L217.8 588.3 L218.7 586.3 L219.5 584.2 L220.3 582.2 L221.1 580.1 L222 578 L222.8 576.2 L223.6 574.3 L224.4 572.4 L225.2 570.4 L226 568.5 L226.8 566.5 L227.7 564.6 L228.5 562.6 L229.3 560.6 L230.1 558.7 L230.9 556.8 L231.7 554.9 L232.5 553 L233.3 551 L234.1 549.1 L234.9 547.2 L235.7 545.2 L236.4 543.3 L237.2 541.5 L237.9 539.6 L238.7 537.7 L239.4 535.8 L240.2 533.9 L241 532 L241.8 530.1 L242.6 528.2 L243.4 526.3 L244.2 524.4 L245 522.6 L245.8 520.7 L246.7 518.7 L247.5 516.8 L248.3 514.7 L249.2 512.7 L250 510.5 L250.7 508.8 L251.4 507 L252.1 505.1 L252.8 503.2 L253.5 501.2 L254.2 499.2 L254.9 497.2 L255.7 495.2 L256.4 493.1 L257.1 491.1 L257.8 489 L258.6 487 L259.3 485 L259.9 483 L260.6 481 L261.3 479.1 L261.9 477.3 L262.5 475.5 L263.2 473.4 L263.9 471.3 L264.6 469.2 L265.2 467.1 L265.9 465.1 L266.5 463.1 L267.1 461.1 L267.7 459.2 L268.3 457.3 L268.8 455.5 L269.4 453.7 L270 452 L270.7 449.8 L271.5 447.7 L272.2 445.6 L272.9 443.7 L273.6 441.8 L274.3 439.9 L275 438 L275.8 436.1 L276.6 434.1 L277.4 432.3 L278.3 430.4 L279.1 428.7 L280 427 L281.2 424.9 L282.3 422.9 L283.6 421 L285 419.2 L286.6 417.6 L288.3 416 L290.1 414.7 L292 413.5 L293.9 412.6 L295.8 411.8 L297.8 411.2 L300 410.7 L301.8 410.4 L303.8 410.1 L305.8 410 L307.9 409.8 L309.9 409.7 L312 409.6 L314 409.5 L315.9 409.4 L317.8 409.3 L319.9 409.3 L322.2 409.2 L325 409.2 L326.3 409.2 L327.6 409.2 L329.1 409.1 L330.7 409.1 L332.4 409.1 L334.1 409.1 L336 409.1 L337.9 409.1 L339.9 409.1 L342 409.1 L344.1 409.1 L346.3 409.1 L348.5 409.1 L350.8 409.1 L353.1 409.1 L355.5 409.1 L357.8 409 L360.2 409 L362.6 409 L365 409 L367.3 409 L369.7 409 L372.1 409 L374.4 409 L376.7 409 L379 409 L381.2 409 L383.4 409 L385.6 409 L387.6 409 L389.7 409 L391.6 409 L393.5 409 L395.2 409 L396.9 409 L398.5 409 L400 409 L402.6 409 L405.2 408.9 L407.7 408.7 L410.1 408.6 L412.4 408.4 L414.6 408.3 L416.6 408.2 L418.4 408.2 L420 408.3 L421.4 408.5 L422.5 408.8 L424 409.6 L425 411 L425.4 411.9 L425.7 413.1 L425.9 414.6 L426.2 416.2 L426.3 418 L426.5 420.1 L426.6 422.2 L426.7 424.5 L426.8 426.8 L426.9 429.2 L426.9 431.7 L427 434.2 L427 436.6 L427.1 439.1 L427.2 441.5 L427.3 443.8 L427.4 445.9 L427.5 448 L427.7 450.1 L427.8 452.1 L428 454 L428.1 456 L428.3 457.9 L428.4 459.9 L428.6 461.8 L428.8 463.7 L428.9 465.6 L429.1 467.6 L429.2 469.6 L429.4 471.6 L429.6 473.6 L429.7 475.7 L429.9 477.8 L430 480 L430.1 481.8 L430.2 483.6 L430.3 485.4 L430.4 487.3 L430.6 489.2 L430.7 491 L430.8 493 L430.9 494.9 L431 496.8 L431.1 498.8 L431.2 500.8 L431.3 502.8 L431.4 504.8 L431.5 506.8 L431.6 508.9 L431.7 510.9 L431.8 513 L431.9 515.1 L432 517.2 L432.1 519.3 L432.1 521.4 L432.2 523.5 L432.3 525.7 L432.4 527.8 L432.5 530 L432.6 531.8 L432.6 533.7 L432.7 535.6 L432.8 537.4 L432.8 539.3 L432.9 541.3 L433 543.2 L433 545.1 L433.1 547 L433.2 549 L433.2 551 L433.3 552.9 L433.4 554.9 L433.4 556.9 L433.5 558.9 L433.5 560.9 L433.6 563 L433.7 565 L433.7 567 L433.8 569.1 L433.8 571.1 L433.9 573.1 L433.9 575.2 L434 577.3 L434 579.3 L434.1 581.4 L434.1 583.4 L434.2 585.5 L434.2 587.6 L434.3 589.7 L434.3 591.7 L434.4 593.8 L434.4 595.9 L434.5 597.9 L434.5 600 L434.5 601.9 L434.6 603.9 L434.6 605.9 L434.6 607.9 L434.7 609.9 L434.7 611.9 L434.7 614 L434.8 616 L434.8 618.1 L434.8 620.2 L434.9 622.3 L434.9 624.4 L434.9 626.5 L434.9 628.6 L435 630.7 L435 632.8 L435 634.9 L435 637 L435.1 639.1 L435.1 641.2 L435.1 643.3 L435.1 645.3 L435.1 647.4 L435.2 649.5 L435.2 651.5 L435.2 653.6 L435.2 655.6 L435.2 657.6 L435.3 659.6 L435.3 661.6 L435.3 663.5 L435.3 665.5 L435.3 667.4 L435.4 669.2 L435.4 671.1 L435.4 672.9 L435.4 674.8 L435.5 676.5 L435.5 678.3 L435.5 680 L435.5 682.5 L435.6 685 L435.6 687.7 L435.6 690.4 L435.7 693.2 L435.7 696 L435.7 698.8 L435.8 701.5 L435.8 704.2 L435.8 706.9 L435.8 709.4 L435.9 711.8 L435.9 714 L435.9 716.1 L436 718 L436 719.6 L436 721 L436.1 722.2 L436.1 723 L436.2 723.5 L436.2 723.7 L436.2 723.5 L436.3 723 L436.3 722.1 L436.4 720.9 L436.4 719.5 L436.5 717.8 L436.5 715.9 L436.5 713.8 L436.6 711.5 L436.6 709.1 L436.7 706.5 L436.7 703.9 L436.8 701.2 L436.8 698.4 L436.9 695.6 L436.9 692.8 L437 690.1 L437 687.4 L437.1 684.8 L437.1 682.3 L437.2 680 L437.2 678.1 L437.3 676.2 L437.3 674.2 L437.4 672.2 L437.4 670.2 L437.5 668.1 L437.5 666 L437.5 663.9 L437.6 661.7 L437.6 659.5 L437.7 657.3 L437.7 655.1 L437.7 652.9 L437.8 650.7 L437.8 648.5 L437.9 646.3 L437.9 644.1 L438 642 L438 639.8 L438.1 637.7 L438.1 635.6 L438.2 633.6 L438.3 631.5 L438.3 629.6 L438.4 627.6 L438.5 625.7 L438.6 623.9 L438.6 622.1 L438.7 620.4 L438.8 618.8 L438.9 617.2 L439.1 614.6 L439.2 611.9 L439.3 609.4 L439.5 606.9 L439.6 604.6 L439.8 602.3 L440 600.2 L440.2 598.3 L440.5 596.5 L440.8 594.9 L441.2 593.6 L442.3 590.9 L443.6 589.6 L445.5 590.8 L447.5 593.6 L448.2 595 L448.7 596.7 L449.2 598.7 L449.7 600.8 L450.1 602.9 L450.5 605.1 L450.9 607.3 L451.4 609.3 L451.9 611.2 L452.5 613.2 L453 615.1 L453.6 617 L454.1 619 L454.6 620.9 L455 622.9 L455.4 625 L455.7 626.8 L455.9 628.6 L456 630.4 L456.1 632.2 L456.2 634.1 L456.3 636 L456.4 638 L456.4 640.2 L456.5 642.5 L456.6 645 L456.7 646.5 L456.7 648.2 L456.7 650.1 L456.8 652.1 L456.8 654.3 L456.9 656.5 L456.9 658.9 L456.9 661.4 L457 664 L457 666.6 L457 669.3 L457.1 672.1 L457.1 674.8 L457.1 677.6 L457.1 680.4 L457.2 683.1 L457.2 685.9 L457.2 688.6 L457.2 691.2 L457.3 693.8 L457.3 696.2 L457.3 698.6 L457.3 700.9 L457.4 703 L457.4 705.1 L457.4 706.9 L457.4 708.6 L457.4 710.1 L457.5 711.4 L457.5 712.5 L457.5 713.4 L457.5 714.1 L457.6 714.5 L457.6 714.6 L457.6 714.4 L457.6 713.9 L457.6 713.1 L457.6 712.1 L457.6 710.7 L457.5 709.1 L457.5 707.3 L457.4 705.3 L457.4 703.1 L457.3 700.7 L457.3 698.2 L457.2 695.6 L457.1 692.9 L457.1 690.1 L457 687.3 L457 684.4 L457 681.5 L456.9 678.6 L456.9 675.7 L456.9 672.9 L457 670.1 L457 667.4 L457 664.9 L457.1 662.4 L457.2 660.1 L457.3 658 L457.5 656.1 L457.6 654.4 L457.8 652.9 L458.1 651.6 L458.3 650.7 L458.6 650 L459.8 648.8 L461 648.6 L461.7 649.2 L462.3 650.5 L462.9 652.4 L463.4 654.5 L464 657 L464.5 659.5 L465.1 662 L465.6 664.3 L466 666.1 L466.4 668 L466.9 669.9 L467.3 671.9 L467.7 673.9 L468 675.9 L468.4 677.9 L468.8 680 L469.2 682 L469.6 684 L469.9 686 L470.3 687.9 L470.7 690 L471.1 692.1 L471.5 694.2 L471.9 696.2 L472.3 698.2 L472.6 700.3 L473 702.3 L473.4 704.3 L473.8 706.3 L474.2 708.3 L474.6 710.5 L475.1 712.7 L475.5 714.9 L476 717.1 L476.5 719.3 L476.9 721.4 L477.4 723.5 L477.8 725.4 L478.2 727.2 L478.7 730 L479.1 732.7 L479.6 735 L480.5 736.5 L482.2 737.1 L484 737 L485.7 736 L487.6 735 L490 735 L492.8 735.7 L495.4 736.6 L497.2 737.8 L498.8 739.3 L500.5 740.7 L502.3 741.9 L504.2 743 L506 744 L508.6 745.4 L511 745.9 L512.7 744.8 L514 743 L514.9 741.4 L515.6 739.5 L516.2 737.2 L516.6 735.5 L516.9 733.6 L517.2 731.5 L517.5 729.2 L517.8 726.9 L518 724.5 L518.3 722.2 L518.5 720 L518.7 717.9 L518.9 715.8 L519 713.7 L519.2 711.6 L519.3 709.5 L519.5 707.3 L519.6 704.9 L519.7 702.3 L519.8 700.7 L519.8 698.9 L519.9 697.1 L520 695.2 L520 693.2 L520.1 691.1 L520.1 689.1 L520.2 686.9 L520.3 684.7 L520.3 682.6 L520.4 680.4 L520.4 678.1 L520.4 676 L520.5 673.8 L520.5 671.6 L520.6 669.5 L520.6 667.5 L520.7 665.5 L520.7 663.6 L520.8 661.7 L520.8 660 L520.9 657.5 L520.9 654.9 L521 652.2 L521 649.4 L521.1 646.8 L521.1 644.4 L521.2 642.2 L521.2 640.3 L521.3 638.9 L521.3 637.9 L521.4 637.6 L521.5 637.9 L521.5 638.9 L521.6 640.3 L521.6 642.1 L521.7 644.4 L521.8 646.8 L521.8 649.4 L521.9 652.2 L522 654.9 L522 657.5 L522.1 660 L522.1 661.7 L522.2 663.5 L522.2 665.3 L522.3 667.2 L522.3 669.1 L522.4 671 L522.4 672.9 L522.5 674.9 L522.5 677 L522.5 679 L522.6 681.1 L522.6 683.2 L522.7 685.3 L522.7 687.4 L522.8 689.5 L522.9 691.6 L522.9 693.8 L523 695.9 L523 698 L523.1 700.2 L523.2 702.3 L523.3 704.2 L523.4 706.2 L523.4 708.2 L523.5 710.2 L523.6 712.3 L523.7 714.4 L523.8 716.5 L523.9 718.6 L524 720.8 L524.1 722.9 L524.2 725.1 L524.3 727.2 L524.4 729.3 L524.5 731.5 L524.6 733.6 L524.7 735.7 L524.8 737.7 L525 739.8 L525.1 741.8 L525.2 743.8 L525.3 745.7 L525.4 747.6 L525.5 749.5 L525.6 751.3 L525.7 753 L525.8 754.7 L525.9 757.2 L526.1 759.6 L526.2 762 L526.4 764.4 L526.5 766.6 L526.7 768.9 L526.8 771 L527 773 L527.1 774.9 L527.3 776.8 L527.4 778.4 L527.6 780 L528 782.7 L528.3 784.9 L528.7 787.5 L528.9 789.3 L529.1 791.3 L529.4 793.5 L529.6 795.7 L529.8 798 L530 800.4 L530.3 802.7 L530.5 805 L530.7 806.9 L530.9 808.9 L531.1 810.8 L531.3 812.8 L531.5 814.8 L531.7 816.8 L531.9 818.8 L532.1 820.8 L532.3 822.9 L532.5 825 L532.7 827 L532.8 829 L533 831.1 L533.2 833.2 L533.4 835.4 L533.5 837.5 L533.7 839.6 L533.9 841.8 L534 843.9 L534.2 846 L534.3 848 L534.5 850 L534.7 852.3 L534.8 854.8 L535 857.4 L535.2 860.1 L535.3 862.6 L535.5 865 L535.7 867 L535.9 868.6 L536 869.6 L536.2 870 L536.4 869.6 L536.6 868.6 L536.7 866.9 L536.9 864.9 L537.1 862.5 L537.3 859.9 L537.4 857.3 L537.6 854.6 L537.8 852.2 L538 850 L538.2 848 L538.4 846 L538.5 844.1 L538.7 842.1 L538.8 840.1 L539 838.1 L539.2 836.2 L539.4 834.1 L539.7 832.1 L540 830 L540.3 828 L540.6 826 L541 823.9 L541.4 821.9 L541.8 819.8 L542.2 817.6 L542.6 815.5 L543 813.4 L543.5 811.3 L544 809.2 L544.5 807.1 L545 805 L545.5 803.1 L546 801.1 L546.5 799.1 L547.1 797.2 L547.7 795.2 L548.3 793.3 L548.8 791.3 L549.5 789.4 L550.1 787.5 L550.7 785.6 L551.3 783.7 L551.9 781.8 L552.5 780 L553.2 777.8 L554 775.6 L554.8 773.4 L555.6 771.2 L556.4 769 L557.1 766.9 L557.9 764.9 L558.6 763.1 L559.3 761.4 L559.9 760 L561.2 757.4 L562.5 755 L563.3 753.5 L564.1 751.6 L565 749.6 L566 747.5 L567 745.3 L568 743.3 L569 741.5 L570 740 L571.6 738.1 L573.3 736.5 L575 735 L576.6 733.5 L578.4 732.1 L580.2 730.6 L582 729 L583.6 727.5 L585.2 726 L586.8 724.4 L588.4 722.8 L590 721 L591.4 719.4 L592.8 717.8 L594.2 716 L595.6 714.3 L596.9 712.5 L598.2 710.9 L599.3 709.3 L600.6 707.4 L601.8 705.5 L602.9 703.8 L604 702 L605.2 700.1 L606.3 698.2 L607.5 696.5 L608.7 695.2 L610.3 694.4 L612 694 L614.2 693.9 L616.5 693.7 L618.6 693 L620.8 691.9 L622.7 690.5 L624.2 688.6 L625.3 686.3 L626.5 684 L627.8 682 L629.1 680 L630.5 678.1 L631.9 676.2 L633.4 674.2 L635 672.5 L636.6 671 L638.3 669.7 L639.9 668.7 L641.5 668.1 L643 668 L644.6 668.6 L646.2 669.5 L648.1 670.6 L650 672 L651.7 673.3 L653.6 674.8 L655.5 676.5 L656.9 677.9 L658.4 679.4 L660 681.1 L661.6 682.8 L663.3 684.5 L665 686.2 L666.5 687.6 L668 689 L669.6 690.4 L671.1 691.8 L672.7 693.2 L674.3 694.6 L675.9 696 L677.5 697.5 L679.1 699 L680.7 700.5 L682.3 702 L683.8 703.5 L685.4 705 L687 706.6 L688.5 708.3 L690 710 L691.3 711.6 L692.6 713.2 L693.9 714.9 L695.1 716.6 L696.4 718.3 L697.6 720.1 L698.9 721.9 L700.1 723.8 L701.3 725.6 L702.5 727.5 L703.6 729.3 L704.7 731.1 L705.8 732.9 L706.8 734.8 L707.9 736.7 L708.9 738.6 L710 740.5 L711 742.5 L712 744.4 L713 746.3 L714 748.2 L715 750 L716 751.9 L716.9 753.9 L717.8 755.9 L718.8 757.9 L719.7 759.9 L720.6 761.8 L721.4 763.7 L722.3 765.5 L723.2 767.1 L724.1 768.7 L725 770 L726.6 772.2 L728.2 774.2 L729.8 775.7 L731.2 776.2 L733.2 774.7 L735 772 L736.2 770.4 L737.5 768.8 L738.8 767 L740 765 L741 763.2 L742 761.2 L743 759.2 L744 757.1 L745 755 L746 753 L747 751.2 L748.1 749.4 L749.1 747.6 L750.2 745.9 L751.3 744.2 L752.5 742.5 L753.7 740.8 L754.8 739.2 L756 737.6 L757.3 736 L758.6 734.5 L760 733 L761.6 731.5 L763.2 730.1 L765 728.8 L766.7 727.4 L768.4 726.2 L770 725 L771.8 723.6 L773.5 722.4 L775.2 721.2 L777 720 L779 718.7 L781 717.3 L783 716.1 L785 715 L787.3 714 L789.6 713.2 L792 712.5 L794.4 711.9 L796.8 711.5 L799.3 711.3 L801.8 711.4 L804.4 711.6 L807 712 L809 712.3 L811.1 712.6 L813.1 713.1 L814.9 713.7 L816.7 714.6 L818.4 715.7 L820 717 L821.7 718.6 L823.4 720.5 L825 722.5 L826.3 724.4 L827.6 726.4 L828.8 728.6 L830 731 L830.8 732.8 L831.6 734.7 L832.3 736.7 L833 738.8 L833.7 740.9 L834.4 743 L835 745 L835.7 747.2 L836.3 749.3 L836.9 751.5 L837.4 753.6 L838 755.8 L838.5 758 L838.9 760 L839.4 762 L839.8 764.1 L840.2 766.1 L840.5 768.2 L840.9 770.3 L841.2 772.5 L841.5 774.6 L841.7 776.8 L842 779.1 L842.2 781.3 L842.4 783.6 L842.6 785.8 L842.8 787.9 L843 790 L843.3 792.5 L843.6 795.3 L843.9 797.9 L844.1 800.3 L844.4 801.9 L844.7 802.5 L844.9 802 L845.2 800.7 L845.4 798.7 L845.6 796.2 L845.8 793.4 L846 790.5 L846.3 787.6 L846.5 785 L846.7 783.1 L846.9 781.1 L847.1 779 L847.3 776.8 L847.5 774.6 L847.7 772.4 L847.9 770.1 L848.1 767.9 L848.3 765.6 L848.5 763.4 L848.7 761.3 L849 759.2 L849.2 757.2 L849.4 755.3 L849.7 752.9 L850 750.6 L850.3 748.3 L850.7 746.1 L851 744 L851.3 741.9 L851.7 739.9 L852 738 L852.4 735.6 L852.8 733.4 L853.3 731.2 L853.7 729.1 L854.2 727 L854.7 724.9 L855.2 722.7 L855.7 720.6 L856.3 718.7 L857 717 L858.4 714.3 L860 712.8 L861.5 713.9 L863 716 L864 717.9 L865 720 L866 722.2 L866.9 724.1 L867.9 726 L868.9 727.9 L870 730 L870.9 731.7 L871.8 733.6 L872.7 735.5 L873.7 737.4 L874.6 739.3 L875.4 741.1 L876.4 743.4 L877.3 745.6 L878.1 747.8 L879 750 L879.7 751.9 L880.5 753.9 L881.2 755.9 L881.8 757.9 L882.5 760 L883 761.9 L883.6 763.9 L884.1 765.9 L884.5 768 L885 770 L885.5 772 L886.1 774.7 L886.7 777.8 L887.3 780.7 L887.9 782.8 L888.4 783.6 L888.8 782.9 L889.2 781.1 L889.5 778.5 L889.8 775.6 L890.1 772.6 L890.5 770 L890.8 767.9 L891.2 765.7 L891.5 763.6 L891.9 761.4 L892.3 759.3 L892.7 757.2 L893.1 755.3 L893.7 752.7 L894.4 750.3 L895.2 748 L896 746 L897.4 743.3 L899 741.1 L900.4 739.6 L902 738.5 L903.9 737.8 L906.1 737.5 L909 737.8 L912 738.5 L914 739.2 L916 740.2 L917.9 741.1 L920 742.3 L922 743.5 L924.6 744.9 L927.3 745.8 L929.2 745.8 L931 745.5 L932.7 745.1 L934.4 744.6" stroke="#0000ff"/>
<path d="M218.7 598 L225 587 M233.7 564.2 L241.2 548 M247.5 528 L256.2 511.7 M261.2 494.2 L270 478 M280 454.3 L287.8 443.4 M305 426.2 L322.1 422.3 M347.1 422.3 L363.5 423.9 M386.9 427.8 L403.3 430.9 M424.5 442 L428 458 M435 533 L437.5 550.5 M442.8 575.5 L448.3 590.4 M453.8 617.2 L458.5 632.1 M467.9 637.6 L471.9 653.3 M475.8 678.4 L479.7 695 M482.9 720.1 L484.4 735.8 M487.5 760 L493.7 776.2 M503.7 791.2 L507.5 807.5 M522.5 792.5 L525 795 M527.5 766.2 L536.2 756.2 M546.2 758.7 L551.2 771.2 M553.7 756.2 L560 758.7 M570 740 L577.5 737.5 M591.2 727.5 L597.5 737.5 M605 757.5 L607.5 773.7 L610 775 M616.2 748.7 L620 738.7 M626.2 741.2 L633.7 731.2 M639.9 706.2 L642.2 692.1 M675.8 671 L686 668.7 M704.8 665.3 L718.1 661.4 M731.4 660.6 L740 670.7 M758.7 663.7 L766.5 677.8 M782.9 682.4 L793 694.1 M802.4 691 L810.2 705.9 M819.6 709.8 L824.2 716.8 M839.1 717.6 L850 716 M854.2 736.4 L856.5 751.7 M860 768.2 L862.4 782.4 M862.4 808.4 L863.6 824.9 M864.8 826 L866 842.6 M867.1 800.1 L873 793 M875.4 770.6 L880.1 774.1 M901.4 786 L909.6 784.8 M914.4 771.8 L917.9 757.6 M932 769.4 L934.4 783.6 M933.2 810.7 L934.4 814.3" stroke="#0000ff"/>
</g>
<path d="M177.5 680.4 L179.1 678.4 L180.7 678.8 L182.3 677.2 L183.9 679.9 L185.5 680.2 L187.1 678.6 L188.7 679 L190.3 676.4 L191.9 678.3 L193.5 677.4 L195.1 676.5 L196.7 676.6 L198.3 677.2 L199.9 675 L201.5 675.7 L203.1 677.4 L204.7 676.9 L206.3 674 L207.9 673 L209.5 675.8 L211.1 673.1 L212.7 675.6 L214.3 672.4 L215.9 670.8 L217.5 671.4 L219.1 672.9 L220.7 674.1 L222.3 669.4 L223.9 668.4 L225.5 668.5 L227.1 667.5 L228.7 668.2 L230.3 665.1 L231.9 663.5 L233.5 663.1 L235.1 665.2 L236.7 664.7 L238.3 662.7 L239.9 661.7 L241.5 659.6 L243.1 658.2 L244.7 659.2 L246.3 658 L247.9 655.4 L249.5 655.6 L251.1 655.4 L252.7 657 L254.3 656.5 L255.9 652.9 L257.5 653.4 L259.1 649.3 L260.7 649.9 L262.3 650.7 L263.9 647.6 L265.5 647.3 L267.1 644.4 L268.7 647 L270.3 647.8 L271.9 646.6 L273.5 646.5 L275.1 643.3 L276.7 644.5 L278.3 643.9 L279.9 643.7 L281.5 642.6 L283.1 643.2 L284.7 642.8 L286.3 641.9 L287.9 643.8 L289.5 642 L291.1 643.2 L292.7 641.8 L294.3 643.3 L295.9 643.4 L297.5 642.2 L299.1 643.5 L300.7 645.8 L302.3 644.7 L303.9 648 L305.5 648.9 L307.1 650.7 L308.7 651.7 L310.3 655.4 L311.9 654 L313.5 654.9 L315.1 656 L316.7 657 L318.3 653 L319.9 653.4 L321.5 652.9 L323.1 653.4 L324.7 653.6 L326.3 654.1 L327.9 652.1 L329.5 652.5 L331.1 652.2 L332.7 653.8 L334.3 653.1 L335.9 649.4 L337.5 649.3 L339.1 651.1 L340.7 652.7 L342.3 654.3 L343.9 655 L345.5 654.2 L347.1 653.6 L348.7 655.3 L350.3 655.5 L351.9 657.1 L353.5 659.4 L355.1 659.8 L356.7 660.8 L358.3 662.5 L359.9 663.1 L361.5 661.3 L363.1 664.6 L364.7 664.3 L366.3 664.8 L367.9 664.4 L369.5 662.2 L371.1 661.7 L372.7 661.4 L374.3 664.1 L375.9 662.2 L377.5 661.9 L379.1 662.1 L380.7 661.9 L382.3 662.7 L383.9 661.9 L385.5 662.1 L387.1 663.1 L388.7 663.5 L390.3 665.5 L391.9 665.5 L393.5 669.8 L395.1 670.5 L396.7 670.4 L398.3 672.2 L399.9 673.9 L401.5 675.3 L403.1 672.8 L404.7 673.1 L406.3 671.3 L407.9 667 L409.5 664.7 L411.1 661.4 L412.7 659.9 L414.3 659.4 L415.9 658.8 L417.5 660.5 L419.1 657.7 L420.7 659.5 L422.3 665.5 L423.9 666.9 L425.5 668.7 L427.1 673.4 L428.7 674.7 L430.3 679.7 L431.9 684.2 L433.5 686.4 L435.1 688.4 L436.7 689 L438.3 685.1 L439.9 680.1 L441.5 678 L443.1 672.9 L444.7 670.6 L446.3 665.9 L447.9 663.2 L449.5 662.9 L451.1 660.1 L452.7 655.7 L454.3 652.1 L455.9 651.7 L457.5 651 L459.1 648.5 L460.7 648.7 L462.3 647.4 L463.9 645.8 L465.5 645.4 L467.1 646.1 L468.7 645.8 L470.3 647.2 L471.9 648.5 L473.5 647.8 L475.1 650.7 L476.7 652.5 L478.3 653.9 L479.9 654.3 L481.5 657 L483.1 660.3 L484.7 664.9 L486.3 669.6 L487.9 675.8 L489.5 681.7 L491.1 686.4 L492.7 690.7 L494.3 697.8 L495.9 704.5 L497.5 708 L499.1 714 L500.7 712.4 L502.3 709.7 L503.9 707.6 L505.5 704.7 L507.1 700.8 L508.7 698.1 L510.3 691.3 L511.9 687.1 L513.5 682.6 L515.1 677 L516.7 674.1 L518.3 674.4 L519.9 671.9 L521.5 668.3 L523.1 666.5 L524.7 664.8 L526.3 665.5 L527.9 663.2 L529.5 659.1 L531.1 659.9 L532.7 658.8 L534.3 655.5 L535.9 651.5 L537.5 649.4 L539.1 645.5 L540.7 642.6 L542.3 644.5 L543.9 642.3 L545.5 641 L547.1 642 L548.7 639.8 L550.3 640.4 L551.9 639 L553.5 635.3 L555.1 633.4 L556.7 631.4 L558.3 630 L559.9 630.8 L561.5 629.3 L563.1 630 L564.7 629.3 L566.3 632.3 L567.9 629.5 L569.5 629.1 L571.1 629.2 L572.7 630.3 L574.3 628.4 L575.9 629.7 L577.5 627.6 L579.1 627.1 L580.7 626.7 L582.3 624.4 L583.9 626.7 L585.5 627.4 L587.1 628.3 L588.7 632.1 L590.3 630.7 L591.9 633 L593.5 635.9 L595.1 637.4 L596.7 639.7 L598.3 643.4 L599.9 646.9 L601.5 651.3 L603.1 652.5 L604.7 657.9 L606.3 660.7 L607.9 664.7 L609.5 669.3 L611.1 670.1 L612.7 671.8 L614.3 674 L615.9 676 L617.5 677.8 L619.1 683.1 L620.7 687.5 L622.3 691.6 L623.9 695.9 L625.5 698.8 L627.1 701.3 L628.7 699.9 L630.3 700.4 L631.9 698.6 L633.5 698.3 L635.1 696.4 L636.7 691.6 L638.3 690.2 L639.9 689 L641.5 686 L643.1 680.8 L644.7 679.7 L646.3 680.9 L647.9 679.6 L649.5 680.4 L651.1 680.6 L652.7 683.5 L654.3 684.7 L655.9 684.9 L657.5 678.9 L659.1 677.6 L660.7 673.8 L662.3 671.3 L663.9 675.4 L665.5 677.2 L667.1 675.6 L668.7 679.1 L670.3 677.9 L671.9 679.1 L673.5 682.5 L675.1 684.2 L676.7 684.1 L678.3 687.3 L679.9 686.6 L681.5 684.1 L683.1 681.7 L684.7 679.3 L686.3 677.8 L687.9 672.4 L689.5 671.8 L691.1 669.1 L692.7 666 L694.3 666.4 L695.9 666.8 L697.5 665 L699.1 661.5 L700.7 662.8 L702.3 659.8 L703.9 658.2 L705.5 653.2 L707.1 652.6 L708.7 650.6 L710.3 652.5 L711.9 650.1 L713.5 649 L715.1 651 L716.7 653.7 L718.3 654 L719.9 651.4 L721.5 650.3 L723.1 652.5 L724.7 650.9 L726.3 650.9 L727.9 648.4 L729.5 648.1 L731.1 650.6 L732.7 650.9 L734.3 650.9 L735.9 656 L737.5 657.5 L739.1 660.6 L740.7 659.9 L742.3 663.4 L743.9 661.4 L745.5 664.8 L747.1 663.9 L748.7 663.9 L750.3 664.9 L751.9 666.5 L753.5 664.5 L755.1 664.4 L756.7 666.4 L758.3 666.2 L759.9 666.5 L761.5 667.1 L763.1 667 L764.7 667.9 L766.3 667 L767.9 665.4 L769.5 665.6 L771.1 663 L772.7 662.8 L774.3 660.8 L775.9 661 L777.5 659.4 L779.1 660.6 L780.7 660.4 L782.3 663.6 L783.9 663 L785.5 661.8 L787.1 662.9 L788.7 664.8 L790.3 662 L791.9 664.8 L793.5 663.6 L795.1 664 L796.7 665.2 L798.3 663.6 L799.9 664.1 L801.5 665.1 L803.1 666.5 L804.7 664.6 L806.3 666.8 L807.9 666.7 L809.5 667.2 L811.1 667.4 L812.7 668.3 L814.3 667.9 L815.9 668.8 L817.5 669.1 L819.1 671.6 L820.7 670 L822.3 669.8 L823.9 669.6 L825.5 672.4 L827.1 672.7 L828.7 672.3 L830.3 671.2 L831.9 671.2 L833.5 671.4 L835.1 672.3 L836.7 671.8 L838.3 673.5 L839.9 673.3 L841.5 676.2 L843.1 676.6 L844.7 674.9 L846.3 673.5 L847.9 675.7 L849.5 673.4 L851.1 673.7 L852.7 672.3 L854.3 673.1 L855.9 672.9 L857.5 672.6 L859.1 671 L860.7 671.6 L862.3 669.6 L863.9 670.3 L865.5 669.6 L867.1 671.1 L868.7 670.2 L870.3 669 L871.9 667.8 L873.5 666 L875.1 667.1 L876.7 666.7 L878.3 668.4 L879.9 670 L881.5 672.2 L883.1 674.3 L884.7 674 L886.3 675.2 L887.9 678.5 L889.5 676.5 L891.1 680.4 L892.7 682.5 L894.3 682.8 L895.9 688.2 L897.5 691 L899.1 692.5 L900.7 693.8 L902.3 694.9 L903.9 693.3 L905.5 694.1 L907.1 693.4 L908.7 693.3 L910.3 691.2 L911.9 689.3 L913.5 685.3 L915.1 683.2 L916.7 680.5 L918.3 680.1 L919.9 678.1 L921.5 676.9 L923.1 678.3 L924.7 680.3 L926.3 679.9 L927.9 682.9 L929.5 682.4 L931.1 683.2 L932.7 683.8 L934.3 684.6 L934.4 684" fill="none" stroke="#008000" stroke-width="4.2" stroke-linejoin="miter"/>
<path d="M177.6 670.9L186.3 685.9L168.9 685.9ZM194.9 668.2L203.6 683.2L186.2 683.2ZM212.2 664.7L220.9 679.7L203.5 679.7ZM229.5 657.4L238.2 672.4L220.8 672.4ZM246.8 647L255.5 662L238.1 662ZM264.1 638.7L272.8 653.7L255.4 653.7ZM281.4 632.8L290.1 647.8L272.7 647.8ZM298.7 633.6L307.4 648.6L290 648.6ZM316 646.1L324.7 661.1L307.3 661.1ZM333.3 642L342 657L324.6 657ZM350.6 646.1L359.3 661.1L341.9 661.1ZM367.9 653.3L376.6 668.3L359.2 668.3ZM385.2 653.8L393.9 668.8L376.5 668.8ZM402.5 665L411.2 680L393.8 680ZM419.8 649.7L428.5 664.7L411.1 664.7ZM437.1 678.8L445.8 693.8L428.4 693.8ZM454.4 641L463.1 656L445.7 656ZM471.7 636.7L480.4 651.7L463 651.7ZM489 668.7L497.7 683.7L480.3 683.7ZM506.3 693.9L515 708.9L497.6 708.9ZM523.6 657.3L532.3 672.3L514.9 672.3ZM540.9 634.1L549.6 649.1L532.2 649.1ZM558.2 620.9L566.9 635.9L549.5 635.9ZM575.5 618.4L584.2 633.4L566.8 633.4ZM592.8 624.2L601.5 639.2L584.1 639.2ZM610.1 659L618.8 674L601.4 674ZM627.4 690.9L636.1 705.9L618.7 705.9ZM644.7 671L653.4 686L636 686ZM662 662.3L670.7 677.3L653.3 677.3ZM679.3 677.2L688 692.2L670.6 692.2ZM696.6 656L705.3 671L687.9 671ZM713.9 640.6L722.6 655.6L705.2 655.6ZM731.2 640L739.9 655L722.5 655ZM748.5 654.4L757.2 669.4L739.8 669.4ZM765.8 658.1L774.5 673.1L757.1 673.1ZM783.1 652.8L791.8 667.8L774.4 667.8ZM800.4 654.2L809.1 669.2L791.7 669.2ZM817.7 660.6L826.4 675.6L809 675.6ZM835 662.4L843.7 677.4L826.3 677.4ZM852.3 664.2L861 679.2L843.6 679.2ZM869.6 661.7L878.3 676.7L860.9 676.7ZM886.9 666.2L895.6 681.2L878.2 681.2ZM904.2 684.6L912.9 699.6L895.5 699.6ZM921.5 668.6L930.2 683.6L912.8 683.6Z" fill="#008000"/>
</g>
<rect x="177.6" y="399.7" width="757.6" height="610.3" fill="none" stroke="#000" stroke-width="2.4"/>
<path d="M177.6 1010 v12 M177.6 399.7 v10.5 M285.8 1010 v12 M285.8 399.7 v10.5 M394.1 1010 v12 M394.1 399.7 v10.5 M502.3 1010 v12 M502.3 399.7 v10.5 M610.5 1010 v12 M610.5 399.7 v10.5 M718.7 1010 v12 M718.7 399.7 v10.5 M827 1010 v12 M827 399.7 v10.5 M935.2 1010 v12 M935.2 399.7 v10.5 M231.7 1010 v6 M231.7 399.7 v5.5 M339.9 1010 v6 M339.9 399.7 v5.5 M448.2 1010 v6 M448.2 399.7 v5.5 M556.4 1010 v6 M556.4 399.7 v5.5 M664.6 1010 v6 M664.6 399.7 v5.5 M772.9 1010 v6 M772.9 399.7 v5.5 M881.1 1010 v6 M881.1 399.7 v5.5 M177.6 409.1 h-12 M935.2 409.1 h-12 M177.6 509.2 h-12 M935.2 509.2 h-12 M177.6 609.3 h-12 M935.2 609.3 h-12 M177.6 709.4 h-12 M935.2 709.4 h-12 M177.6 809.5 h-12 M935.2 809.5 h-12 M177.6 909.6 h-12 M935.2 909.6 h-12 M177.6 1009.7 h-12 M935.2 1009.7 h-12 M177.6 459.2 h-6 M935.2 459.2 h-6 M177.6 559.2 h-6 M935.2 559.2 h-6 M177.6 659.4 h-6 M935.2 659.4 h-6 M177.6 759.5 h-6 M935.2 759.5 h-6 M177.6 859.5 h-6 M935.2 859.5 h-6 M177.6 959.6 h-6 M935.2 959.6 h-6" stroke="#000" stroke-width="2.2" fill="none"/>
<g font-family="Liberation Sans, Arial, sans-serif" font-size="26.5" fill="#000">
<text x="158.3" y="417.9" text-anchor="end">0</text>
<text x="158.3" y="518" text-anchor="end">-20</text>
<text x="158.3" y="618.1" text-anchor="end">-40</text>
<text x="158.3" y="718.2" text-anchor="end">-60</text>
<text x="158.3" y="818.3" text-anchor="end">-80</text>
<text x="158.3" y="918.4" text-anchor="end">-100</text>
<text x="158.3" y="1018.5" text-anchor="end">-120</text>
<text x="177.6" y="1050.6" text-anchor="middle">2.5</text>
<text x="285.8" y="1050.6" text-anchor="middle">3.0</text>
<text x="394.1" y="1050.6" text-anchor="middle">3.5</text>
<text x="502.3" y="1050.6" text-anchor="middle">4.0</text>
<text x="610.5" y="1050.6" text-anchor="middle">4.5</text>
<text x="718.7" y="1050.6" text-anchor="middle">5.0</text>
<text x="827" y="1050.6" text-anchor="middle">5.5</text>
<text x="935.2" y="1050.6" text-anchor="middle">6.0</text>
</g>
<text x="557" y="1088.8" text-anchor="middle" font-family="Liberation Sans, Arial, sans-serif" font-size="32" xml:space="preserve">Frequency  (GHz)</text>
<text transform="translate(95.2 678.5) rotate(-90)" text-anchor="middle" font-family="Liberation Sans, Arial, sans-serif" font-size="32">S-parameters (dB)</text>
<g font-family="Liberation Sans, Arial, sans-serif" font-size="28.8" fill="#000">
<path d="M282 886 H346.5" stroke="#000000" stroke-width="4"/>
<text x="353.2" y="896.2">Simulated |<tspan font-style="italic">S</tspan><tspan font-size="19" dy="9.5">11</tspan><tspan dy="-9.5">|</tspan></text>
<path d="M568 886 H586 M609.5 886 H628" stroke="#000000" stroke-width="4"/>
<text x="639.6" y="896.2">Measured |<tspan font-style="italic">S</tspan><tspan font-size="19" dy="9.5">11</tspan><tspan dy="-9.5">|</tspan></text>
<path d="M282 934.3 H346.5" stroke="#0000ff" stroke-width="4"/>
<text x="353.2" y="944.5">Simulated |<tspan font-style="italic">S</tspan><tspan font-size="19" dy="9.5">21</tspan><tspan dy="-9.5">|</tspan></text>
<path d="M568 934.3 H586 M609.5 934.3 H628" stroke="#0000ff" stroke-width="4"/>
<text x="639.6" y="944.5">Measured |<tspan font-style="italic">S</tspan><tspan font-size="19" dy="9.5">21</tspan><tspan dy="-9.5">|</tspan></text>
<path d="M282 982.2 H346.5" stroke="#ff0000" stroke-width="4"/>
<text x="353.2" y="992.4">Simulated |<tspan font-style="italic">S</tspan><tspan font-size="19" dy="9.5">31</tspan><tspan dy="-9.5">|</tspan></text>
<path d="M568 982.2 H586 M609.5 982.2 H628" stroke="#ff0000" stroke-width="4"/>
<text x="639.6" y="992.4">Measured |<tspan font-style="italic">S</tspan><tspan font-size="19" dy="9.5">31</tspan><tspan dy="-9.5">|</tspan></text>
<path d="M568 838.3 H632.2" stroke="#008000" stroke-width="4"/>
<path d="M599.8 828.3 L608.5 843.3 L591.1 843.3 Z" fill="#008000"/>
<text x="639.6" y="848.5">Measured |<tspan font-style="italic">S</tspan><tspan font-size="19" dy="9.5">32</tspan><tspan dy="-9.5">|</tspan></text>
</g>
<text x="512.6" y="381.5" text-anchor="middle" font-family="Liberation Serif, Times New Roman, serif" font-size="37" letter-spacing="-0.6">(a)</text>
<text x="512.9" y="1139.5" text-anchor="middle" font-family="Liberation Serif, Times New Roman, serif" font-size="37" letter-spacing="-0.6">(b)</text>
</svg>
</body></html>
